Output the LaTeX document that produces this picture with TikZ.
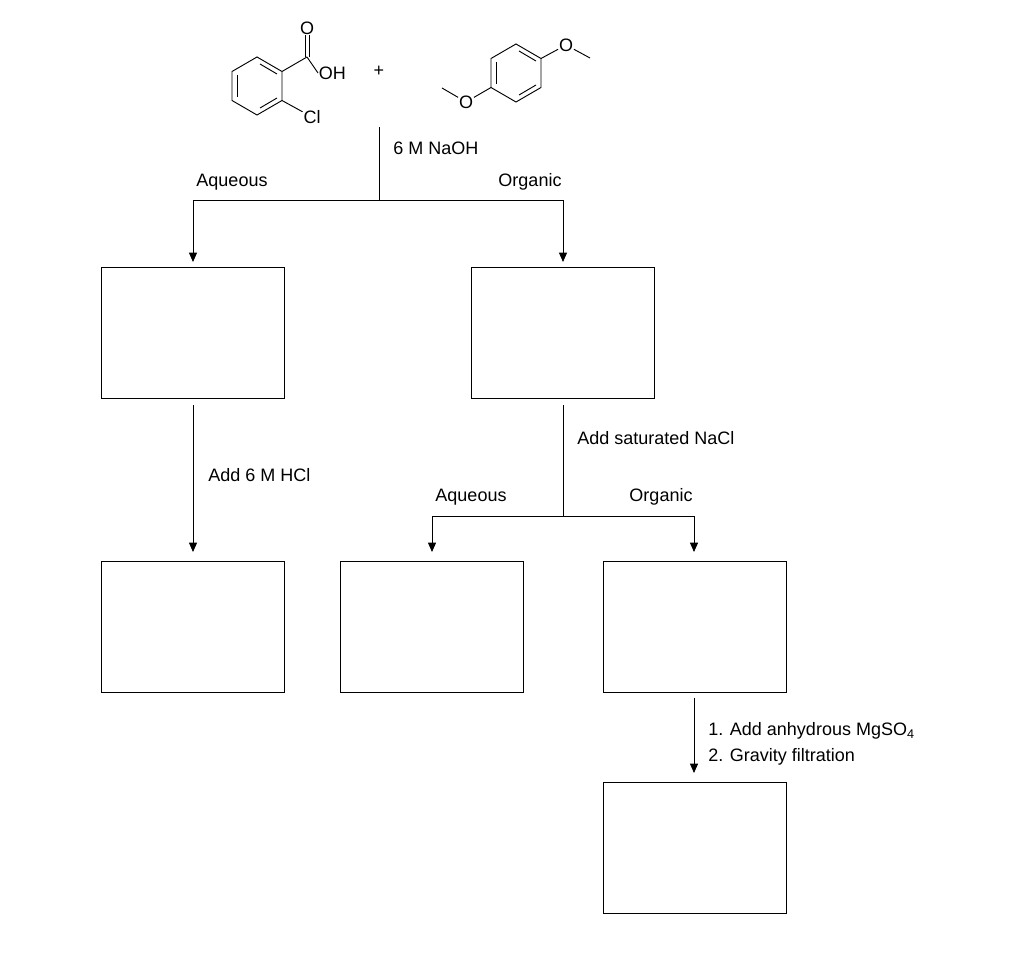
\documentclass[tikz,border=0pt]{standalone}
\usepackage{fontspec}
\setmainfont{Liberation Sans}
\usetikzlibrary{arrows.meta}
\begin{document}
\begin{tikzpicture}[x=0.75pt,y=-0.75pt,
  box/.style={draw,line width=0.7pt,minimum width=137.25pt,minimum height=98.25pt,inner sep=0pt},
  lbl/.style={font=\fontsize{13.5}{16}\selectfont,inner sep=0pt},
  atom/.style={font=\fontsize{13.5}{15}\selectfont,inner sep=0.5pt,fill=white},
  arr/.style={-{Triangle[length=7pt,width=6pt]},line width=0.6pt},
  ln/.style={line width=0.6pt},
  bond/.style={line width=0.7pt}]
\useasboundingbox (0,0) rectangle (1024,962);
% boxes
\node[box] (b1) at (192.5,333) {};
\node[box] (b2) at (563,333) {};
\node[box] (b3) at (192.5,626.5) {};
\node[box] (b4) at (432,626.5) {};
\node[box] (b5) at (694.5,626.5) {};
\node[box] (b6) at (694.5,847.5) {};
% molecules: left ring
\draw[bond] (257,57)--(282,71.5)--(282,100.5)--(257,115)--(232,100.5)--(232,71.5)--cycle;
\draw[bond] (237.5,75)--(237.5,97);
\draw[bond] (260,64)--(277,74);
\draw[bond] (260,108)--(277,98);
\draw[bond] (282,71.5)--(307,57);
\draw[bond] (305,57)--(305,35) (309,57)--(309,35);
\node[atom] (o1) at (307,28) {O};
\node[atom,anchor=west] (oh) at (318,73) {OH};
\draw[bond] (307,57)--(oh.west);
\node[atom] (cl) at (312,117) {Cl};
\draw[bond] (282,100.5)--(cl);
\node[lbl] (plus) at (379,71) {+};
% right ring
\draw[bond] (516,44)--(541,58.5)--(541,87.5)--(516,102)--(491,87.5)--(491,58.5)--cycle;
\draw[bond] (496.5,62)--(496.5,84);
\draw[bond] (519,51)--(536,61);
\draw[bond] (519,95)--(536,85);
\node[atom] (o2) at (566,45) {O};
\draw[bond] (541,58.5)--(o2) (o2)--(590,58);
\node[atom] (o3) at (466,102) {O};
\draw[bond] (491,87.5)--(o3) (o3)--(442,88);
% top split
\coordinate (t0) at (379,127);
\coordinate (t1) at (379,200);
\coordinate (tl) at (193,200);
\coordinate (tr) at (563,200);
\draw[ln] (t0)--(t1);
\draw[ln] (tl)--(tr);
\draw[arr] (tl)--(193,262);
\draw[arr] (tr)--(563,262);
\node[lbl,anchor=west] at (393,148) {6 M NaOH};
\node[lbl] at (232,182) {Aqueous};
\node[lbl] at (530,182) {Organic};
% left
\coordinate (l0) at (193,405);
\draw[arr] (l0)--(193,552);
\node[lbl,anchor=west] at (208,475) {Add 6 M HCl};
% middle
\coordinate (m0) at (563,405);
\coordinate (m1) at (563,516);
\coordinate (ml) at (432,516);
\coordinate (mr) at (694,516);
\draw[ln] (m0)--(m1);
\draw[ln] (ml)--(mr);
\draw[arr] (ml)--(432,552);
\draw[arr] (mr)--(694,552);
\node[lbl,anchor=west] at (577,438) {Add saturated NaCl};
\node[lbl] at (471,497) {Aqueous};
\node[lbl] at (661,497) {Organic};
% bottom
\coordinate (d0) at (694,698);
\draw[arr] (d0)--(694,773);
\node[lbl,anchor=west] at (708,731) {1. Add anhydrous MgSO\textsubscript{4}};
\node[lbl,anchor=west] at (708,757) {2. Gravity filtration};
\end{tikzpicture}
\end{document}
